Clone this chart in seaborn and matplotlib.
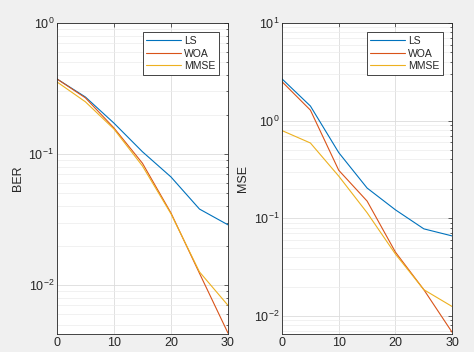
import numpy as np
import pandas as pd
import matplotlib
matplotlib.use("Agg")
import matplotlib.pyplot as plt
import seaborn as sns

# SNR points and curves
snr = [0, 5, 10, 15, 20, 25, 30]
methods = ["LS", "WOA", "MMSE"]
ber_ls = [0.374, 0.272, 0.172, 0.104, 0.0668, 0.038, 0.0288]
ber_woa = [0.374, 0.268, 0.158, 0.085, 0.0355, 0.0123, 0.0043]
ber_mmse = [0.355, 0.250, 0.155, 0.081, 0.0350, 0.0126, 0.0070]
mse_ls = [2.67, 1.41, 0.47, 0.204, 0.122, 0.078, 0.066]
mse_woa = [2.50, 1.28, 0.31, 0.15, 0.045, 0.0186, 0.0068]
mse_mmse = [0.79, 0.59, 0.27, 0.114, 0.043, 0.0186, 0.0125]

colors = ["#0072BD", "#D95319", "#EDB120"]

def long_df(ls, woa, mmse, name):
    df = pd.DataFrame({"SNR": snr, "LS": ls, "WOA": woa, "MMSE": mmse})
    return df.melt(id_vars="SNR", value_vars=methods, var_name="method", value_name=name)

ber_df = long_df(ber_ls, ber_woa, ber_mmse, "BER")
mse_df = long_df(mse_ls, mse_woa, mse_mmse, "MSE")

sns.set_theme(style="whitegrid")
plt.rcParams['font.family'] = ['Liberation Sans', 'DejaVu Sans']
plt.rcParams['mathtext.fontset'] = 'custom'
plt.rcParams['mathtext.rm'] = 'Liberation Sans'
plt.rcParams['mathtext.it'] = 'Liberation Sans'

fig = plt.figure(figsize=(4.74, 3.52), dpi=100)
fig.patch.set_facecolor("#f0f0f0")
ax1 = fig.add_axes([0.120, 0.051, 0.361, 0.884])
ax2 = fig.add_axes([0.595, 0.051, 0.359, 0.884])

for ax, df, name, ylim in [(ax1, ber_df, "BER", (0.00423, 1)),
                           (ax2, mse_df, "MSE", (0.00654, 10))]:
    sns.lineplot(data=df, x="SNR", y=name, hue="method", palette=colors,
                 linewidth=0.8, ax=ax)
    ax.set_yscale("log")
    ax.set_xlim(0, 30)
    ax.set_ylim(*ylim)
    ax.set_xticks([0, 10, 20, 30])
    ax.set_xlabel("")
    ax.set_ylabel(name, fontsize=9, labelpad=3)
    ax.set_facecolor("white")
    ax.grid(True, which="major", color="#dcdcdc", linewidth=0.6)
    ax.grid(True, which="minor", color="#ececec", linewidth=0.5)
    ax.yaxis.set_minor_locator(matplotlib.ticker.LogLocator(base=10, subs=np.arange(2, 10)))
    ax.yaxis.set_minor_formatter(matplotlib.ticker.NullFormatter())
    ax.tick_params(axis="both", which="both", direction="in", top=True, right=True,
                   labelsize=9, pad=2, colors="#262626", width=0.5)
    ax.tick_params(axis="both", which="major", length=3)
    ax.tick_params(axis="y", which="minor", length=1.5)
    for s in ax.spines.values():
        s.set_color("#262626")
        s.set_linewidth(0.6)
    leg = ax.legend(loc="upper right", fontsize=7.5, frameon=True, fancybox=False,
                    handlelength=3.3, borderpad=0.35, labelspacing=0.25,
                    handletextpad=0.3, borderaxespad=0.9)
    leg.get_frame().set_edgecolor("#262626")
    leg.get_frame().set_linewidth(0.6)
    leg.get_frame().set_alpha(1)

fig.savefig("out.png", dpi=100, facecolor=fig.get_facecolor())
